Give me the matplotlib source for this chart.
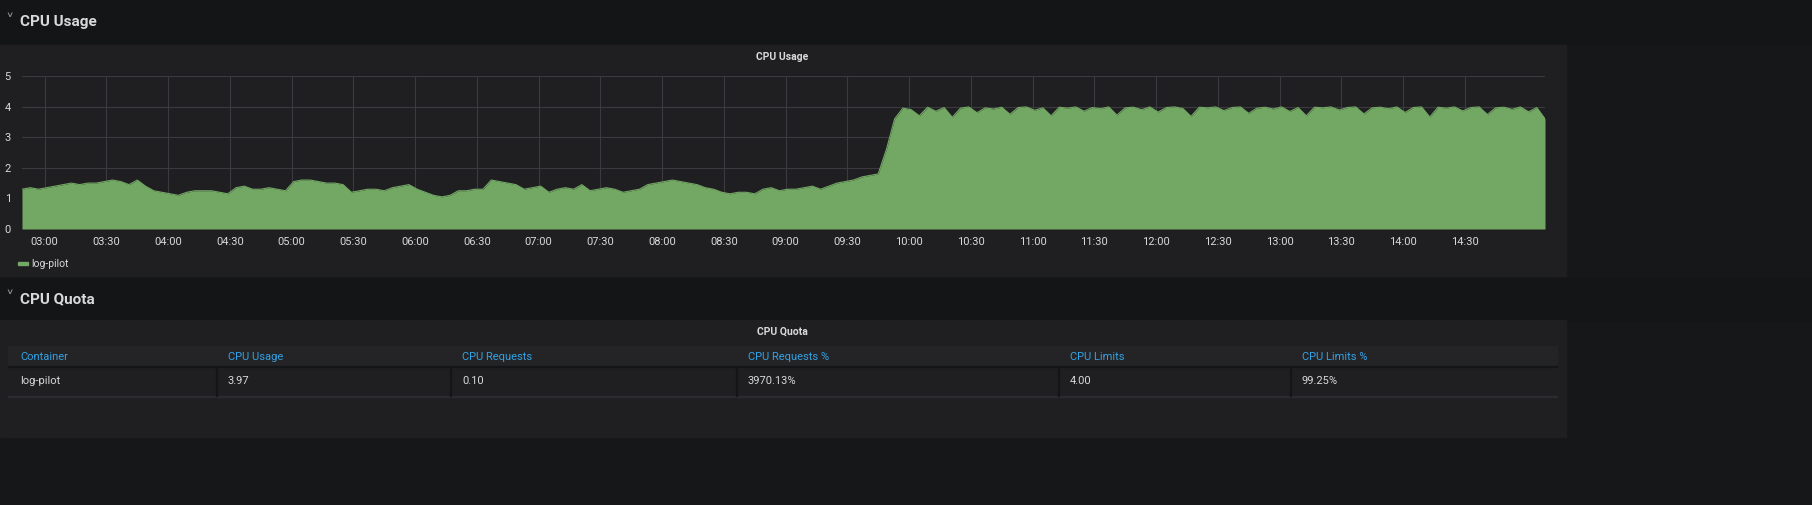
import matplotlib
matplotlib.use("Agg")
import matplotlib.pyplot as plt
from matplotlib.patches import Rectangle
import numpy as np

W, H = 1812, 505
PAGE = "#161719"; ROWBG = "#141517"; PANEL = "#1f1f22"
INK = "#d8d9da"; GRIDC = "#3b3b3f"; GREEN = "#73a864"; BLUE = "#33a2e5"
plt.rcParams["font.family"] = ["Roboto", "DejaVu Sans"]

# CPU usage, one sample every 4 minutes from 02:49
t0_hours = 2 + 49 / 60
step_min = 4
cpu = [
    1.30, 1.35, 1.30, 1.35, 1.40, 1.45, 1.50, 1.45, 1.50, 1.50, 1.55,
    1.60, 1.55, 1.45, 1.60, 1.40, 1.25, 1.20, 1.15, 1.10,
    1.20, 1.25, 1.25, 1.25, 1.20, 1.15, 1.35, 1.40, 1.30,
    1.30, 1.35, 1.30, 1.25, 1.55, 1.60, 1.60, 1.55, 1.50,
    1.50, 1.45, 1.20, 1.25, 1.30, 1.30, 1.25, 1.35, 1.40,
    1.45, 1.30, 1.20, 1.10, 1.05, 1.10, 1.25, 1.25,
    1.30, 1.30, 1.60, 1.55, 1.50, 1.45, 1.30, 1.35,
    1.40, 1.20, 1.30, 1.35, 1.30, 1.45, 1.25, 1.30,
    1.35, 1.30, 1.20, 1.25, 1.30, 1.45, 1.50, 1.55,
    1.60, 1.55, 1.50, 1.45, 1.35, 1.30, 1.20, 1.15,
    1.20, 1.20, 1.15, 1.30, 1.35, 1.25, 1.30, 1.30,
    1.35, 1.40, 1.30, 1.40, 1.50, 1.55, 1.60, 1.70,
    1.75, 1.80, 2.60, 3.60, 3.95,
    3.90, 3.70, 3.98, 3.85, 3.97, 3.65, 3.95, 3.99, 3.80, 3.96,
    3.92, 3.98, 3.75, 3.97, 3.99, 3.88, 3.96, 3.70, 3.98, 3.95,
    3.99, 3.85, 3.97, 3.93, 3.99, 3.72, 3.96, 3.98, 3.90, 3.99,
    3.82, 3.97, 3.99, 3.94, 3.68, 3.98, 3.96, 3.99, 3.87, 3.97,
    3.99, 3.78, 3.95, 3.98, 3.92, 3.99, 3.84, 3.97, 3.70, 3.98,
    3.96, 3.99, 3.89, 3.97, 3.99, 3.76, 3.96, 3.98, 3.93, 3.99,
    3.81, 3.97, 3.99, 3.66, 3.98, 3.95, 3.99, 3.86, 3.97, 3.99,
    3.74, 3.96, 3.98, 3.91, 3.99, 3.83, 3.97, 3.60,
]
xtick_labels = ["03:00", "03:30", "04:00", "04:30", "05:00", "05:30", "06:00", "06:30",
                "07:00", "07:30", "08:00", "08:30", "09:00", "09:30", "10:00", "10:30",
                "11:00", "11:30", "12:00", "12:30", "13:00", "13:30", "14:00", "14:30"]
xtick_hours = [3 + 0.5 * i for i in range(len(xtick_labels))]
yticks = [0, 1, 2, 3, 4, 5]
series_name = "log-pilot"

columns = ["Container", "CPU Usage", "CPU Requests", "CPU Requests %", "CPU Limits", "CPU Limits %"]
row = ["log-pilot", "3.97", "0.10", "3970.13%", "4.00", "99.25%"]
col_x = [8, 216, 450, 736, 1058, 1290, 1557]

fig = plt.figure(figsize=(W / 100, H / 100), dpi=100)
fig.patch.set_facecolor(PAGE)


def rect(x, y, w, h, color, z=-2):
    fig.patches.append(Rectangle((x / W, 1 - (y + h) / H), w / W, h / H,
                                 transform=fig.transFigure, color=color, zorder=z))


def txt(x, y, s, **kw):
    fig.text(x / W, 1 - y / H, s, va="center", **kw)


# section rows and panels
rect(0, 0, W, 45, ROWBG)
rect(0, 45, 1566, 231, PANEL)
rect(0, 278, W, 42, ROWBG)
rect(0, 320, 1566, 117, PANEL)
txt(5, 22, "\u02c5", color="#8e8e8e", fontsize=12, family=["DejaVu Sans"])
txt(20, 22, "CPU Usage", color=INK, fontsize=11, fontweight="bold")
txt(5, 299, "\u02c5", color="#8e8e8e", fontsize=12, family=["DejaVu Sans"])
txt(20, 299, "CPU Quota", color=INK, fontsize=11, fontweight="bold")
txt(782, 57, "CPU Usage", color=INK, fontsize=7.5, fontweight="bold", ha="center")
txt(782, 332, "CPU Quota", color=INK, fontsize=7.5, fontweight="bold", ha="center")

# graph
x0, x1, y0, y1 = 22, 1545, 76, 229
ax = fig.add_axes([x0 / W, 1 - y1 / H, (x1 - x0) / W, (y1 - y0) / H], zorder=2)
ax.set_facecolor(PANEL)
hours = t0_hours + np.arange(len(cpu)) * step_min / 60
ax.fill_between(hours, cpu, 0, color=GREEN, lw=0, zorder=2)
ax.plot(hours, cpu, color=GREEN, lw=0.8, zorder=3)
ax.set_xlim(hours[0], hours[-1])
ax.set_ylim(0, 5)
ax.set_xticks(xtick_hours, xtick_labels)
ax.set_yticks(yticks)
ax.grid(color=GRIDC, lw=0.8, zorder=0)
ax.set_axisbelow(True)
ax.tick_params(colors=INK, labelsize=8, length=0, pad=6)
ax.tick_params(axis="y", pad=8)
for sp in ax.spines.values():
    sp.set_visible(False)

# legend
rect(18, 262, 10, 3, GREEN, z=1)
txt(31, 264, series_name, color=INK, fontsize=7.5)

# table
rect(8, 346, 1549, 20, "#242427", z=-1)
rect(8, 366, 1549, 1, "#141517", z=-1)
rect(8, 396, 1549, 1, "#2c2c30", z=-1)
for i, (c, v) in enumerate(zip(columns, row)):
    txt(col_x[i] + 12, 357, c, color=BLUE, fontsize=8)
    txt(col_x[i] + 12, 381, v, color=INK, fontsize=8)
    if i > 0:
        rect(col_x[i], 367, 1, 29, "#141517", z=-1)

fig.savefig("out.png", dpi=100, facecolor=PAGE)
